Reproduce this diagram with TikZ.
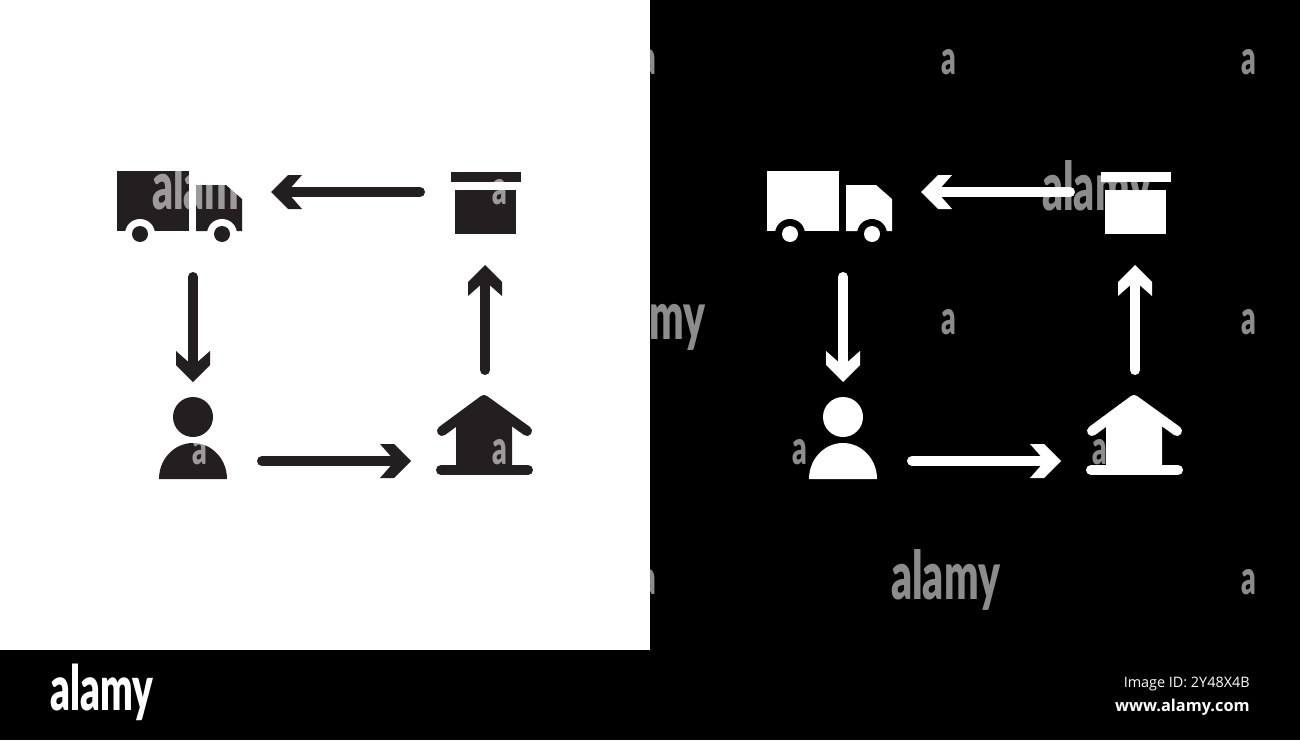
\documentclass[tikz,border=0pt]{standalone}
\usepackage{fontspec}
\setmainfont{Liberation Sans}
\newfontfamily\idfont{Open Sans}
\newfontface\markfont{Lato Black}
\usetikzlibrary{decorations.markings}
\definecolor{inkblack}{rgb}{0.137, 0.122, 0.125}
\definecolor{markgray}{rgb}{0.55, 0.55, 0.55}

\tikzset{
  flow/.style={line width=5.7pt,line cap=round,postaction={decorate},
    decoration={markings,mark=at position 1 with {\fill (19,0) -- (2,-17) -- (-12,-17) -- (3,0) -- (-12,17) -- (2,17) -- cycle;}}},
  bigmark/.style={inner sep=0pt,anchor=base west,text=markgray,transform shape,xscale=.61,font=\markfont\fontsize{38}{38}\selectfont},
  smallmark/.style={inner sep=0pt,anchor=base west,text=markgray,transform shape,xscale=.6,font=\markfont\fontsize{27}{27}\selectfont}
}

% one panel: foreground colour, background colour
\newcommand{\CycleIcons}[2]{
%	Truck
\fill[#1] (117,171) rectangle (189,231);
\fill[#1] (196,185) -- (226,185) -- (242,199) -- (242,231) -- (196,231) -- cycle;
\fill[#2] (140,234) circle (15);
\fill[#2] (222,234) circle (15);
\fill[#1] (140,234) circle (8);
\fill[#1] (222,234) circle (8);
%----------------------------------------------------------------
%	Box
\fill[#1] (451,172) rectangle (521,182);
\fill[#1] (455,190) rectangle (516,234);
%----------------------------------------------------------------
%	Person
\fill[#1] (193,417) circle (20);
\fill[#1] (159,479) arc[start angle=180,end angle=360,x radius=34,y radius=36] -- cycle;
%----------------------------------------------------------------
%	House
\fill[#1] (456,470) -- (456,425) -- (484,400) -- (512,425) -- (512,470) -- cycle;
\draw[#1,line width=5.7pt,line cap=round,line join=round] (442,431) -- (484,400) -- (527,431);
\draw[#1,line width=5.7pt,line cap=round] (441,470) -- (528,470);
%----------------------------------------------------------------
%	Arrows
\coordinate (boxout) at (420,192);
\coordinate (truckin) at (290,192);
\coordinate (truckout) at (193,277);
\coordinate (personin) at (193,363);
\coordinate (personout) at (262,461);
\coordinate (housein) at (392,461);
\coordinate (houseout) at (485,370);
\coordinate (boxin) at (485,284);
\draw[flow,draw=#1,fill=#1] (boxout) -- (truckin);
\draw[flow,draw=#1,fill=#1] (truckout) -- (personin);
\draw[flow,draw=#1,fill=#1] (personout) -- (housein);
\draw[flow,draw=#1,fill=#1] (houseout) -- (boxin);
}

\begin{document}
\begin{tikzpicture}[x=0.02cm,y=-0.02cm]
\useasboundingbox (0,0) rectangle (1300,740);
%================================================================
%	Panels
\fill[black] (0,0) rectangle (1300,740);
\fill[white] (0,0) rectangle (650,650);
%================================================================
%	Icons
\CycleIcons{inkblack}{white}
\begin{scope}[shift={(650,0)}]
\CycleIcons{white}{black}
\end{scope}
%================================================================
%	Marks
\begin{scope}[blend mode=screen]
\node[bigmark] (marktruck) at (152,209) {alamy};
\node[bigmark] (markmiddle) at (596,339) {alamy};
\node[bigmark] (markbox) at (1042,210) {alamy};
\node[bigmark] (markbottom) at (891,599) {alamy};
%----------------------------------------------------------------
\node[smallmark] (markone) at (492,204) {a};
\node[smallmark] (marktwo) at (192,464) {a};
\node[smallmark] (markthree) at (492,464) {a};
\node[smallmark] (markfour) at (792,464) {a};
\node[smallmark] (markfive) at (1092,464) {a};
\node[smallmark] (marksix) at (641,74) {a};
\node[smallmark] (markseven) at (941,74) {a};
\node[smallmark] (markeight) at (1241,74) {a};
\node[smallmark] (marknine) at (941,334) {a};
\node[smallmark] (markten) at (1241,334) {a};
\node[smallmark] (markeleven) at (641,594) {a};
\node[smallmark] (marktwelve) at (1241,594) {a};
\end{scope}
%================================================================
%	Strip
\node[bigmark,text=white,xscale=.945,yscale=.93] (logo) at (50,710) {alamy};
\node[inner sep=0pt,anchor=base east,text=white,font=\idfont\fontsize{8.2}{9}\selectfont] (imageid) at (1250,687) {Image ID: 2Y48X4B};
\node[inner sep=0pt,anchor=base east,text=white,font=\idfont\fontsize{9.3}{10}\selectfont\bfseries] (website) at (1250,711) {www.alamy.com};
%================================================================
\end{tikzpicture}
\end{document}
